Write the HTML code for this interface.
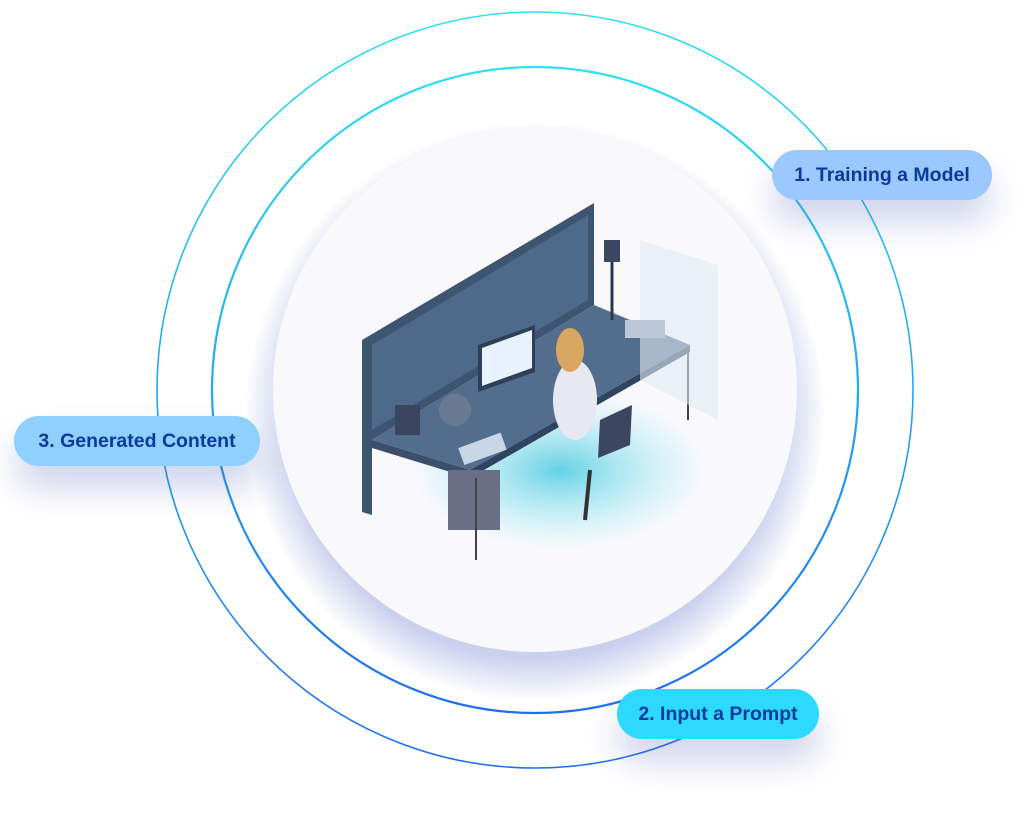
<!DOCTYPE html>
<html><head><meta charset="utf-8"><style>
html,body{margin:0;padding:0;background:#fff;}
body{width:1028px;height:828px;position:relative;overflow:hidden;font-family:"Liberation Sans",sans-serif;}
.pill{position:absolute;height:50px;border-radius:25px;display:flex;align-items:center;justify-content:center;color:#0b3a9c;font-weight:bold;font-size:19.5px;box-shadow:0 22px 34px rgba(70,90,180,0.26);}
</style></head><body>
<svg width="1028" height="828" style="position:absolute;left:0;top:0">
<defs>
<linearGradient id="g" x1="0" y1="0" x2="0" y2="1">
<stop offset="0" stop-color="#2ee0f5"/><stop offset="0.5" stop-color="#22a8f0"/><stop offset="1" stop-color="#1f6ff0"/>
</linearGradient>
<radialGradient id="sh" cx="0.5" cy="0.5" r="0.5">
<stop offset="0.85" stop-color="#8a98d8" stop-opacity="0.45"/><stop offset="1" stop-color="#8a98d8" stop-opacity="0"/>
</radialGradient>
<radialGradient id="floor" cx="0.5" cy="0.5" r="0.5">
<stop offset="0" stop-color="#3fc7e0" stop-opacity="0.8"/><stop offset="1" stop-color="#8fe6f0" stop-opacity="0"/>
</radialGradient>
</defs>
<circle cx="535" cy="390" r="378" fill="none" stroke="url(#g)" stroke-width="1.6"/>
<circle cx="535" cy="390" r="323" fill="none" stroke="url(#g)" stroke-width="2.2"/>
<circle cx="535" cy="412" r="290" fill="url(#sh)"/>
<circle cx="535" cy="390" r="262" fill="#f9f9fc"/>
<ellipse cx="560" cy="470" rx="150" ry="80" fill="url(#floor)"/>
<polygon points="362,340 594,203 594,305 372,440 372,515 362,512" fill="#3e5572"/>
<polygon points="372,345 588,215 588,300 372,430" fill="#4d6a8a"/>
<polygon points="372,440 594,305 690,345 470,470" fill="#536d8c"/>
<polygon points="372,440 470,470 470,478 372,448" fill="#3b4f6a"/>
<polygon points="470,470 690,345 690,352 470,478" fill="#2e4460"/>
<rect x="448" y="470" width="52" height="60" fill="#6a6f86"/>
<line x1="476" y1="478" x2="476" y2="560" stroke="#444" stroke-width="2"/>
<line x1="688" y1="350" x2="688" y2="420" stroke="#444" stroke-width="2"/>
<polygon points="478,345 535,325 535,372 478,392" fill="#2e3f58"/>
<polygon points="482,348 532,330 532,368 482,386" fill="#e8f2ff"/>
<ellipse cx="575" cy="400" rx="22" ry="40" fill="#e8e8f0"/>
<ellipse cx="570" cy="350" rx="14" ry="22" fill="#d9a860"/>
<polygon points="600,420 632,405 630,445 598,458" fill="#3d4660"/>
<line x1="590" y1="470" x2="585" y2="520" stroke="#333" stroke-width="4"/>
<line x1="612" y1="250" x2="612" y2="320" stroke="#2a3650" stroke-width="3"/>
<rect x="604" y="240" width="16" height="22" fill="#3b4660"/>
<polygon points="640,240 718,265 718,420 640,380" fill="#dfe9f2" opacity="0.6"/>
<rect x="625" y="320" width="40" height="18" fill="#bcc8d8"/>
<rect x="460" y="440" width="45" height="18" fill="#c9d6e6" transform="rotate(-20 482 449)"/>
<rect x="395" y="405" width="25" height="30" fill="#3a4660"/>
<circle cx="455" cy="410" r="16" fill="#6a7a92"/>
</svg>
<div class="pill" style="left:772px;top:150px;width:220px;background:#9bc8ff;">1. Training a Model</div>
<div class="pill" style="left:617px;top:689px;width:202px;background:#2dd9fe;">2. Input a Prompt</div>
<div class="pill" style="left:14px;top:416px;width:246px;background:#8fd0ff;">3. Generated Content</div>
</body></html>
